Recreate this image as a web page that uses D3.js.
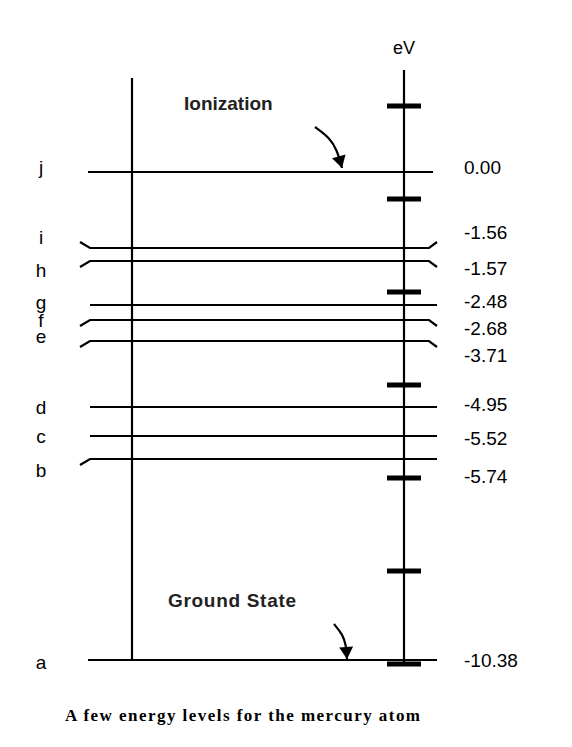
<!DOCTYPE html>
<html lang="en">
<head>
<meta charset="UTF-8">
<script src="https://d3js.org/d3.v7.min.js"></script>
<style>
  body { margin: 0; background: #fff; font-family: 'Liberation Sans', Arial; }
</style>
</head>
<body>
<script>
// level data (schematic diagram: positions are diagram units, not energy)
const levelNames = ["j", "i", "h", "g", "f", "e", "d", "c", "b", "a"];
const levelEnergies = ["0.00", "-1.56", "-1.57", "-2.48", "-2.68", "-3.71", "-4.95", "-5.52", "-5.74", "-10.38"];
const levelPos = [112, 188, 201, 245, 260, 281, 347, 376, 399, 600];
// hook direction at each end: -1 up, 1 down, 0 straight
const leftHooks = [0, -1, 1, 0, 1, 1, 0, 0, 1, 0];
const rightHooks = [0, -1, 1, 0, 1, 1, 0, 0, 0, 0];
// offsets of letter / value labels from their level, diagram units
const letterShift = [-5, -11, 9, -3, 0, -5, 0, 0, 11, 2];
const valueShift = [-5, -16, 7, -4, 8, 14, -3, 2, 17, 0];
const tickPos = [46, 139, 232, 325, 418, 511, 604];

const W = 572, H = 747;
const svg = d3.select('body').append('svg').attr('width', W).attr('height', H);
const y = d3.scaleLinear().domain([0, 600]).range([60, 660]);

const leftX = 132, axisX = 404;
svg.append('line').attr('x1', leftX).attr('x2', leftX).attr('y1', 78).attr('y2', y(600))
  .attr('stroke', '#000').attr('stroke-width', 2.2);
svg.append('line').attr('x1', axisX).attr('x2', axisX).attr('y1', 70).attr('y2', 666)
  .attr('stroke', '#000').attr('stroke-width', 2.2);
svg.append('text').attr('x', axisX).attr('y', 54).attr('text-anchor', 'middle')
  .attr('font-size', 18).text('eV');
svg.selectAll('.tick').data(tickPos).join('line')
  .attr('x1', axisX - 17).attr('x2', axisX + 17)
  .attr('y1', d => y(d)).attr('y2', d => y(d))
  .attr('stroke', '#000').attr('stroke-width', 5);

levelPos.forEach((p, i) => {
  const yy = y(p);
  const x0 = (i === 0 || i === 9) ? 88 : 90, x1 = (i === 0) ? 433 : 437;
  let d = '';
  if (leftHooks[i]) d += `M${x0 - 10},${yy + leftHooks[i] * 6}L${x0},${yy}`;
  else d += `M${x0},${yy}`;
  if (rightHooks[i]) d += `L${x1 - 8},${yy}L${x1},${yy + rightHooks[i] * 6}`;
  else d += `L${x1},${yy}`;
  svg.append('path').attr('d', d).attr('fill', 'none').attr('stroke', '#000').attr('stroke-width', 2.2);
  svg.append('text').attr('x', 41).attr('y', y(p + letterShift[i])).attr('dy', '0.35em')
    .attr('text-anchor', 'middle').attr('font-size', 19).text(levelNames[i]);
  svg.append('text').attr('x', 464).attr('y', y(p + valueShift[i])).attr('dy', '0.35em')
    .attr('font-size', 19).text(levelEnergies[i]);
});

function arrow(pts) {
  svg.append('path').attr('d', d3.line().curve(d3.curveBasis)(pts))
    .attr('fill', 'none').attr('stroke', '#000').attr('stroke-width', 2.2);
  const [a, b] = pts.slice(-2);
  const ang = Math.atan2(b[1] - a[1], b[0] - a[0]);
  const L = 12, Wd = 7;
  const p1 = [b[0] - L * Math.cos(ang) + Wd * Math.sin(ang), b[1] - L * Math.sin(ang) - Wd * Math.cos(ang)];
  const p2 = [b[0] - L * Math.cos(ang) - Wd * Math.sin(ang), b[1] - L * Math.sin(ang) + Wd * Math.cos(ang)];
  svg.append('path').attr('d', `M${b[0]},${b[1]}L${p1[0]},${p1[1]}L${p2[0]},${p2[1]}Z`).attr('fill', '#000');
}
svg.append('text').attr('x', 184).attr('y', 110).attr('font-size', 19).attr('font-weight', 'bold')
  .attr('fill', '#222').text('Ionization');
arrow([[315, 127], [330, 138], [337, 150], [342, 168]]);
svg.append('text').attr('x', 168).attr('y', 607).attr('font-size', 19).attr('font-weight', 'bold')
  .attr('fill', '#222').attr('textLength', 128).text('Ground State');
arrow([[334, 624], [343, 635], [346, 645], [347, 659]]);

svg.append('text').attr('x', 65).attr('y', 721)
  .attr('font-family', 'Liberation Serif').attr('font-weight', 'bold').attr('font-size', 17)
  .attr('textLength', 355).text('A few energy levels for the mercury atom');
</script>
</body>
</html>
